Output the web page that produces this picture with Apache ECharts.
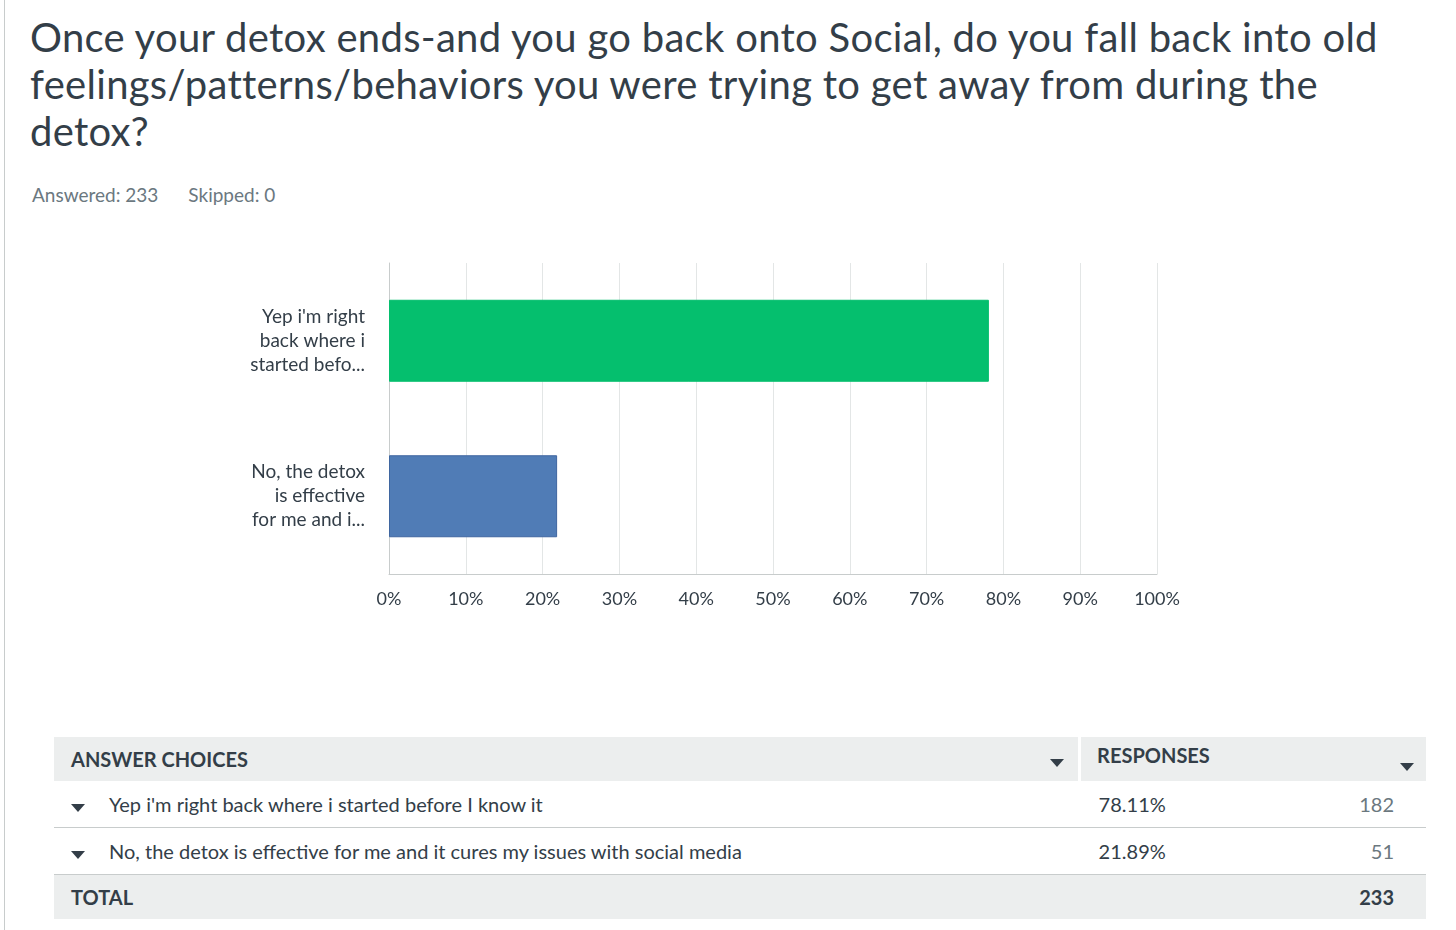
<!DOCTYPE html>
<html><head><meta charset="utf-8">
<script src="https://cdn.jsdelivr.net/npm/echarts@6/dist/echarts.min.js"></script>
<style>
body{margin:0;width:1456px;height:930px;background:#fff;font-family:Lato,"Noto Sans",sans-serif;color:#333e48;position:relative;overflow:hidden}
#edge{position:absolute;left:4px;top:0;width:1px;height:930px;background:#c8cccc}
h1{position:absolute;left:30px;top:14px;margin:0;font-weight:400;font-size:40px;line-height:47px;width:1410px;letter-spacing:0.3px}
#meta{position:absolute;left:32px;top:183px;font-size:19px;color:#6b787f}
#meta span{margin-right:30px}
#chart{position:absolute;left:0;top:0;width:1456px;height:700px}
table{position:absolute;left:54px;top:737px;width:1372px;border-collapse:collapse;font-size:20px}
td{height:46px;padding:0}
.hd td{background:#eceeee;font-weight:700;height:44px}
.row td{border-bottom:1px solid #c8cccc}
.tot td{background:#eceeee;font-weight:700;height:44px}
.arr{display:inline-block;width:0;height:0;border-left:7px solid transparent;border-right:7px solid transparent;border-top:8px solid #333e48}
</style></head><body>
<div id="edge"></div>
<h1>Once your detox ends-and you go back onto Social, do you fall back into old feelings/patterns/behaviors you were trying to get away from during the detox?</h1>
<div id="meta"><span>Answered: 233</span><span>Skipped: 0</span></div>
<div id="chart"></div>
<table id="tbl"></table>
<script>
var categories = ["Yep i'm right\nback where i\nstarted befo...", "No, the detox\nis effective\nfor me and i..."];
var fullChoices = ["Yep i'm right back where i started before I know it", "No, the detox is effective for me and it cures my issues with social media"];
var percents = [78.11, 21.89];
var counts = [182, 51];
var total = 233;
var colors = ['#05bf6e', '#507cb6'];
var ticks = [0,10,20,30,40,50,60,70,80,90,100];

var chart = echarts.init(document.getElementById('chart'));
chart.setOption({
  animation:false,
  grid:{left:389,width:768,top:263,height:311},
  xAxis:{type:'value',min:0,max:100,interval:10,
    axisLine:{show:true,lineStyle:{color:'#c8cccc'}},axisTick:{show:false},
    splitLine:{lineStyle:{color:'#e3e6e6'}},
    axisLabel:{formatter:function(v){return ticks.indexOf(v)>=0?v+'%':'';},color:'#333e48',fontSize:18,margin:16,fontFamily:'Lato'}},
  yAxis:{type:'category',inverse:true,data:categories,
    axisLine:{show:true,lineStyle:{color:'#c8cccc'}},axisTick:{show:false},
    axisLabel:{color:'#333e48',fontSize:19,lineHeight:24,align:'right',margin:24,fontFamily:'Lato'}},
  series:[{type:'bar',barWidth:82,
    data:percents.map(function(v,i){return {value:v,itemStyle:{color:colors[i],borderColor:i?'#3f66a0':colors[i],borderWidth:1}};})}]
});

var arr = '<span class="arr"></span>';
var h = '<tr class="hd"><td style="padding-left:17px">ANSWER CHOICES</td><td style="width:26px;text-align:right;padding-right:14px">'+arr+'</td>'+
  '<td style="border-left:3px solid #fff;padding-left:16px;width:210px" colspan="2">RESPONSES <span style="float:right;margin-right:12px;margin-top:8px">'+arr+'</span></td></tr>';
for (var i=0;i<fullChoices.length;i++){
  h += '<tr class="row"><td colspan="2" style="padding-left:17px">'+arr+'<span style="margin-left:24px">'+fullChoices[i]+'</span></td>'+
    '<td style="padding-left:19px;color:#333e48">'+percents[i].toFixed(2)+'%</td><td style="text-align:right;padding-right:32px;color:#6b787f">'+counts[i]+'</td></tr>';
}
h += '<tr class="tot"><td colspan="2" style="padding-left:17px">TOTAL</td><td></td><td style="text-align:right;padding-right:32px">'+total+'</td></tr>';
document.getElementById('tbl').innerHTML = h;
</script>
</body></html>
